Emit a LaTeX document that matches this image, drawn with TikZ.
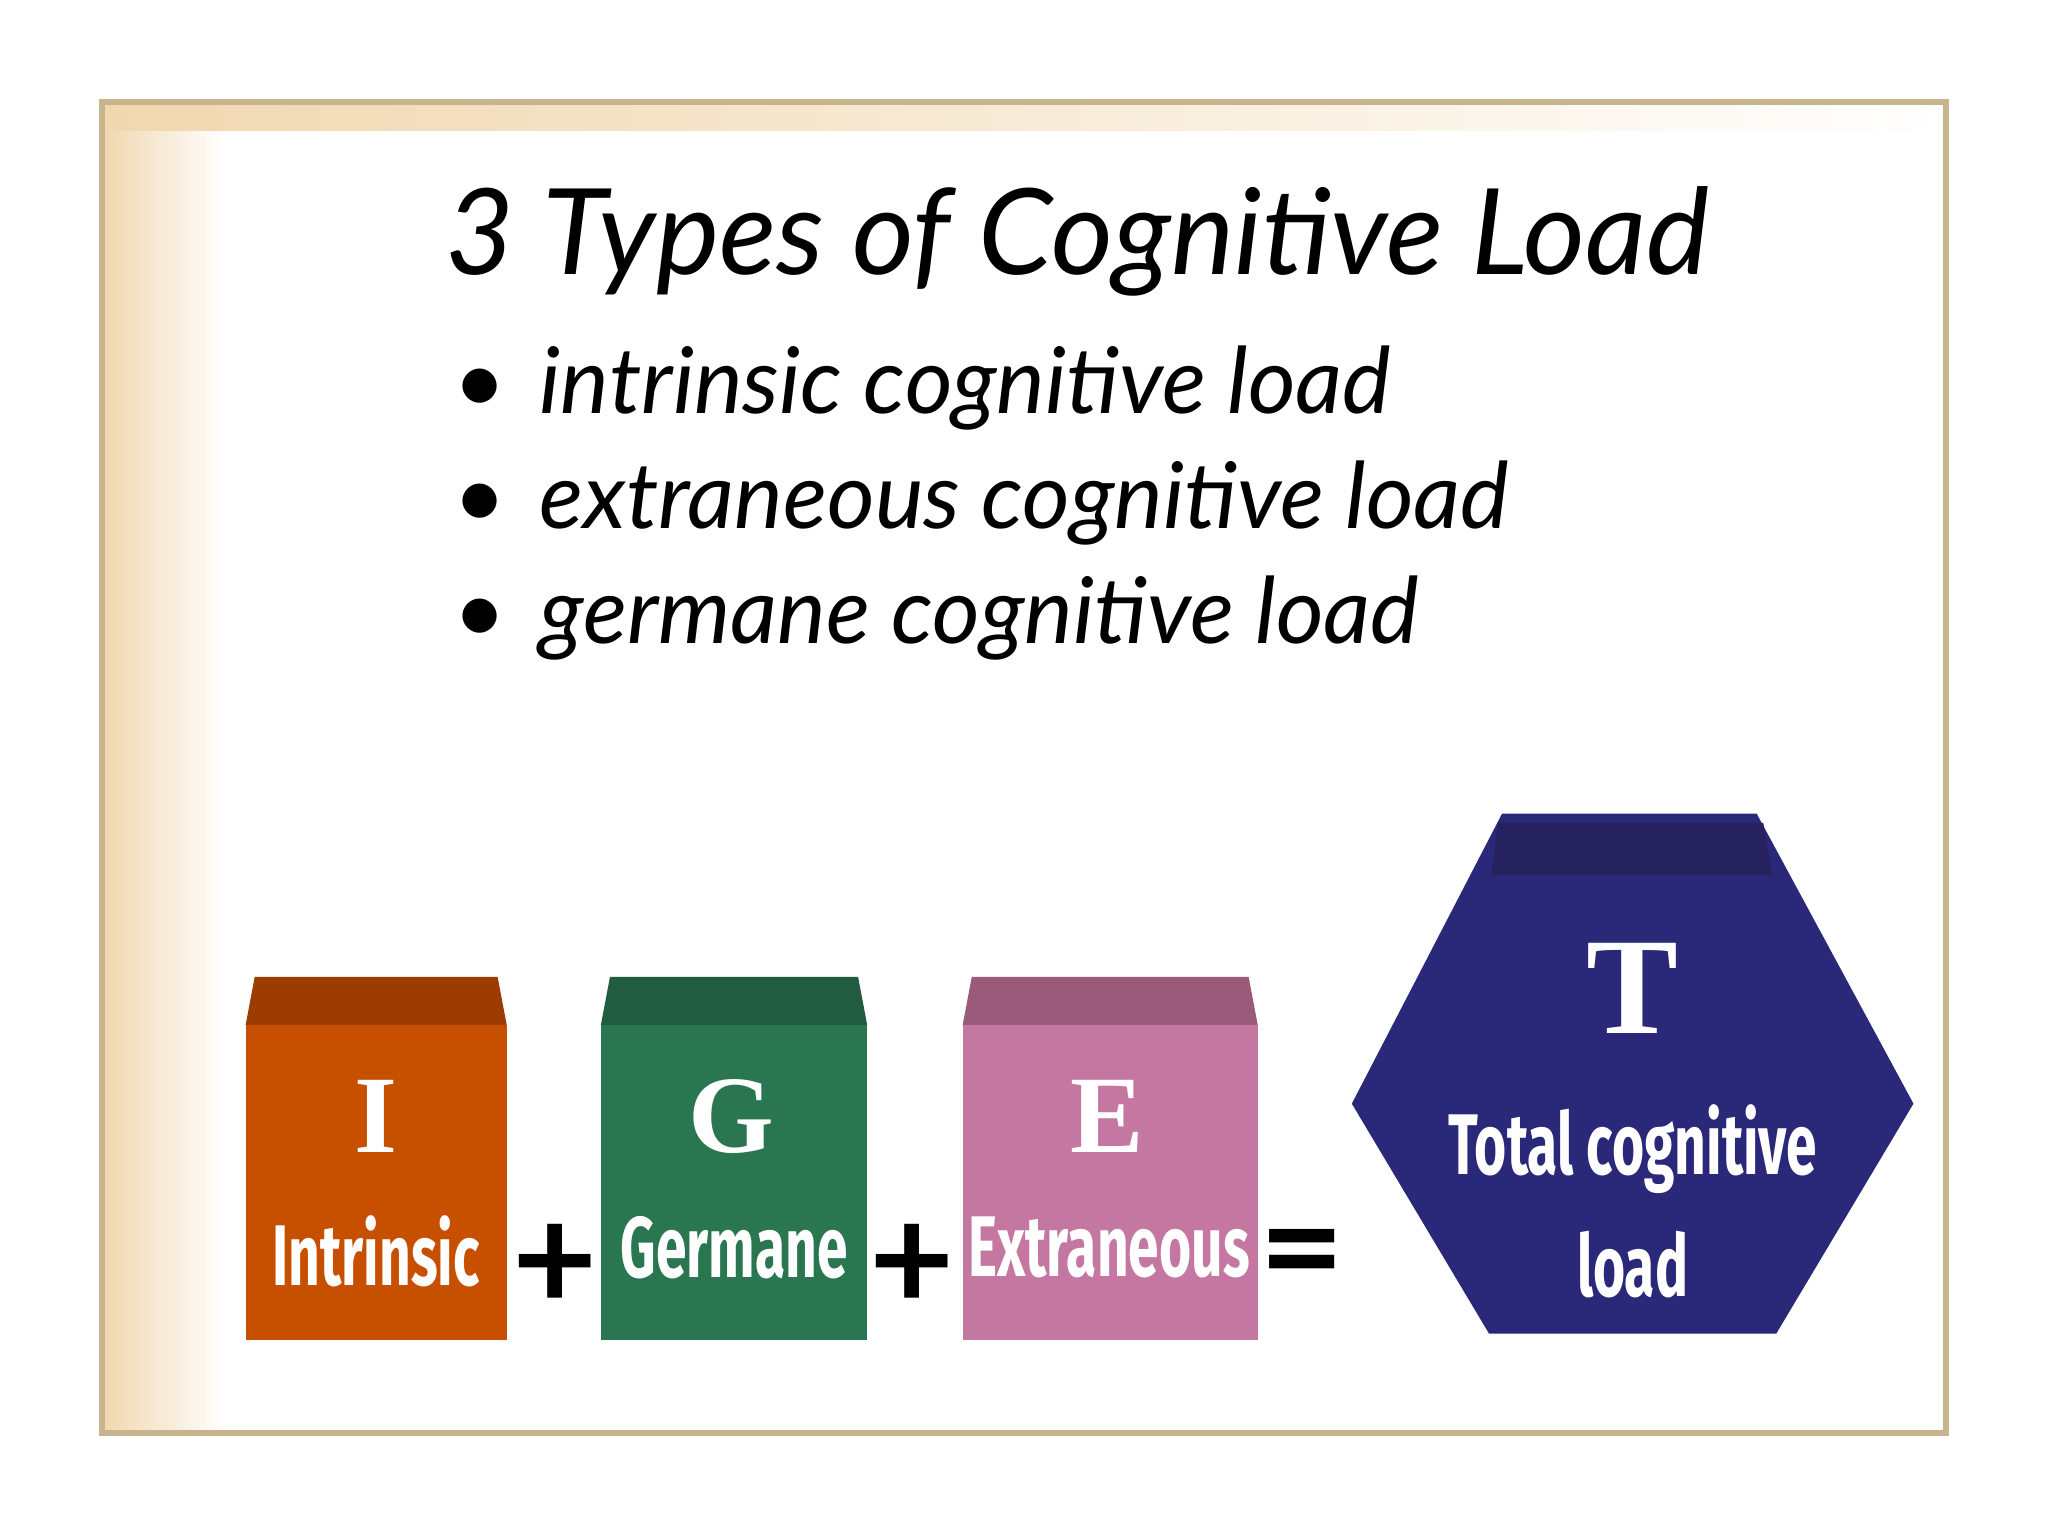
\documentclass[tikz,border=0pt]{standalone}
\usepackage{fontspec}
\setmainfont{Lato}
\newfontfamily\serifb{Liberation Serif}
\newfontfamily\cond{Fira Sans}
\begin{document}
\begin{tikzpicture}[x=0.01cm,y=-0.01cm,
  lbl/.style={text=white,font=\cond\bfseries\fontsize{15}{17}\selectfont},
  let/.style={text=white,font=\serifb\bfseries\fontsize{24}{24}\selectfont},
  op/.style={font=\bfseries\fontsize{32}{32}\selectfont},
  bul/.style={anchor=west,font=\itshape\fontsize{20}{24}\selectfont}]
\useasboundingbox (0,0) rectangle (1568,1176);
\fill[white] (0,0) rectangle (1568,1176);
\definecolor{peach}{RGB}{240,215,175}
\shade[left color=peach, right color=white] (78,78) rectangle (172,1097);
\shade[left color=peach, right color=white] (78,78) rectangle (1490,100);
\fill[white] (172,100) rectangle (1490,1097);
\draw[color={rgb,255:red,200;green,180;blue,140},line width=1.2pt] (78,78) rectangle (1490,1097);
\node[font=\itshape\fontsize{26}{30}\selectfont] (title) at (825,185) {3 Types of Cognitive Load};
\node[bul] (b1) at (335,297) {\textbullet\hspace{0.25cm}intrinsic cognitive load};
\node[bul] (b2) at (335,385) {\textbullet\hspace{0.25cm}extraneous cognitive load};
\node[bul] (b3) at (335,473) {\textbullet\hspace{0.25cm}germane cognitive load};
\definecolor{otop}{RGB}{156,60,0}\definecolor{obody}{RGB}{199,80,0}
\definecolor{gtop}{RGB}{34,92,64}\definecolor{gbody}{RGB}{42,118,80}
\definecolor{ptop}{RGB}{154,90,122}\definecolor{pbody}{RGB}{196,119,160}
\definecolor{hexb}{RGB}{42,40,120}\definecolor{hext}{RGB}{37,34,94}
\fill[otop] (195,748)--(381,748)--(388,785)--(188,785)--cycle;
\fill[obody] (188,785) rectangle (388,1026);
\fill[gtop] (467,748)--(657,748)--(664,785)--(460,785)--cycle;
\fill[gbody] (460,785) rectangle (664,1026);
\fill[ptop] (744,748)--(956,748)--(963,785)--(737,785)--cycle;
\fill[pbody] (737,785) rectangle (963,1026);
\node[let] (I) at (288,855) {I};
\node[let] (G) at (560,855) {G};
\node[let] (E) at (848,855) {E};
\node[lbl] (li) at (288,958) {\scalebox{0.8}[1.25]{Intrinsic}};
\node[lbl] (lg) at (562,955) {\scalebox{0.8}[1.25]{Germane}};
\node[lbl] (le) at (849,955) {\scalebox{0.8}[1.25]{Extraneous}};
\node[op] (p1) at (425,970) {+};
\node[op] (p2) at (698,970) {+};
\node[op] (eq) at (997,968) {=};
\fill[hexb] (1150,623)--(1345,623)--(1465,845)--(1360,1021)--(1140,1021)--(1035,845)--cycle;
\fill[hext] (1147,630)--(1350,630)--(1357,670)--(1142,670)--cycle;
\node[text=white,font=\serifb\bfseries\fontsize{30}{30}\selectfont] (T) at (1250,757) {T};
\node[lbl] (tot1) at (1250,880) {\scalebox{0.8}[1.25]{Total cognitive}};
\node[lbl] (tot2) at (1250,968) {\scalebox{0.8}[1.25]{load}};
\end{tikzpicture}
\end{document}
